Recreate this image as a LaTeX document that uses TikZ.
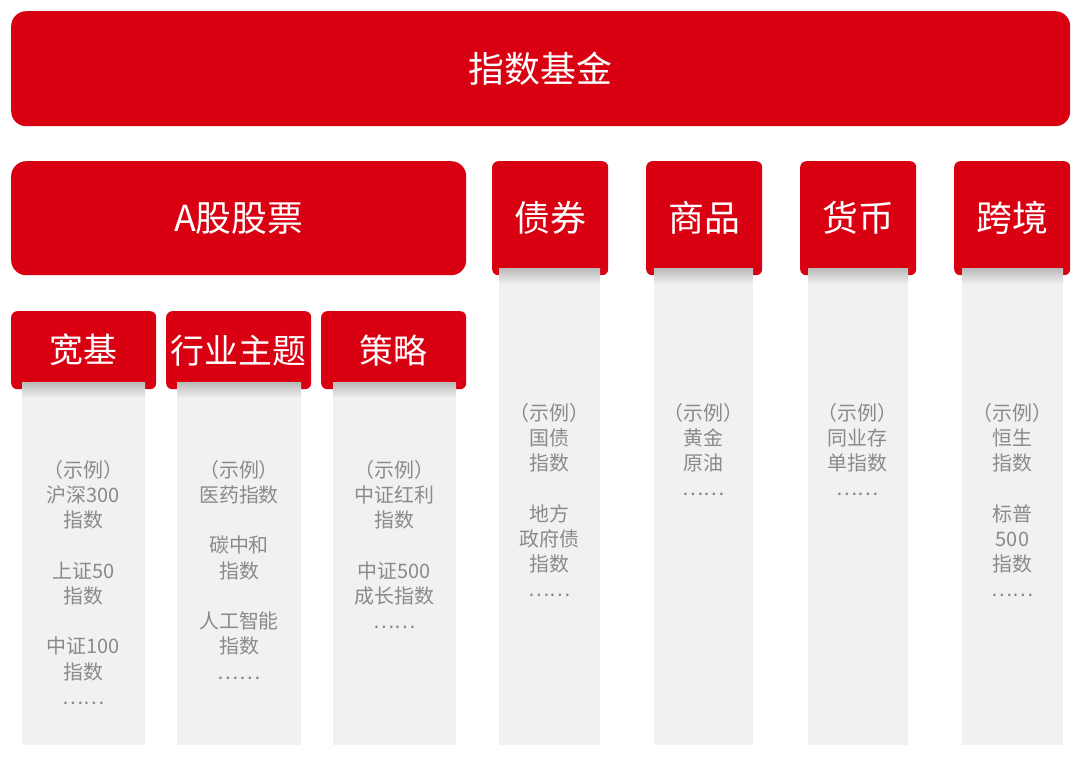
\documentclass[tikz,border=0pt]{standalone}
\usepackage{fontspec}
\setmainfont{Noto Sans CJK SC}
\definecolor{idxred}{RGB}{217,0,18}
\definecolor{colgray}{RGB}{241,241,241}
\definecolor{shadowgray}{RGB}{185,185,185}
\definecolor{txtgray}{RGB}{138,138,138}
\tikzset{
  bigbar/.style={fill=idxred, rounded corners=15bp, text=white, inner sep=0pt, anchor=north west,
    font=\fontsize{36}{40}\selectfont},
  redtab/.style={fill=idxred, rounded corners=6bp, text=white, inner sep=0pt, anchor=north west,
    font=\fontsize{36}{40}\selectfont},
  subtab/.style={redtab, font=\fontsize{34}{38}\selectfont},
  graycol/.style={fill=colgray, inner sep=0pt, anchor=north west},
  coltext/.style={text=txtgray, align=center, inner sep=0pt, anchor=north,
    font=\fontsize{20}{25.3}\selectfont},
}
\newcommand{\colshade}[3]{\shade[top color=shadowgray, bottom color=colgray] (#1,#3) rectangle (#2,#3+16);}
\begin{document}
\begin{tikzpicture}[x=1bp,y=-1bp]
\useasboundingbox (0,0) rectangle (1080,757);
\fill[white] (0,0) rectangle (1080,757);
% top bar
\node[bigbar, minimum width=1059bp, minimum height=115bp] (top) at (11,11) {指数基金};
% A-share bar
\node[redtab, rounded corners=15bp, minimum width=455bp, minimum height=114bp] (ashare) at (11,161) {A股股票};
% right tabs
\node[redtab, minimum width=116bp, minimum height=114bp] (bond) at (492,161) {债券};
\node[redtab, minimum width=116bp, minimum height=114bp] (comm) at (646,161) {商品};
\node[redtab, minimum width=116bp, minimum height=114bp] (money) at (800,161) {货币};
\node[redtab, minimum width=116bp, minimum height=114bp] (cross) at (954,161) {跨境};
% sub tabs
\node[subtab, minimum width=145bp, minimum height=78bp] (broad) at (11,311) {宽基};
\node[subtab, minimum width=145bp, minimum height=78bp] (sector) at (166,311) {行业主题};
\node[subtab, minimum width=145bp, minimum height=78bp] (strat) at (321,311) {策略};
% gray columns
\node[graycol, minimum width=123bp, minimum height=363bp] (cbroad) at (22,382) {};
\node[graycol, minimum width=124bp, minimum height=363bp] (csector) at (177,382) {};
\node[graycol, minimum width=123bp, minimum height=363bp] (cstrat) at (333,382) {};
\node[graycol, minimum width=101bp, minimum height=477bp] (cbond) at (499,268) {};
\node[graycol, minimum width=99bp, minimum height=477bp] (ccomm) at (654,268) {};
\node[graycol, minimum width=100bp, minimum height=477bp] (cmoney) at (808,268) {};
\node[graycol, minimum width=101bp, minimum height=477bp] (ccross) at (962,268) {};
\colshade{22}{145}{382}
\colshade{177}{301}{382}
\colshade{333}{456}{382}
\colshade{499}{600}{268}
\colshade{654}{753}{268}
\colshade{808}{908}{268}
\colshade{962}{1063}{268}
% column texts
\node[coltext] (tbroad) at (83.5,460) {（示例）\\沪深300\\指数\\[25.3bp]上证50\\指数\\[25.3bp]中证100\\指数\\……};
\node[coltext] (tsector) at (239,460) {（示例）\\医药指数\\[25.3bp]碳中和\\指数\\[25.3bp]人工智能\\指数\\……};
\node[coltext] (tstrat) at (394.5,460) {（示例）\\中证红利\\指数\\[25.3bp]中证500\\成长指数\\……};
\node[coltext] (tbond) at (549.5,403) {（示例）\\国债\\指数\\[25.3bp]地方\\政府债\\指数\\……};
\node[coltext] (tcomm) at (703.5,403) {（示例）\\黄金\\原油\\……};
\node[coltext] (tmoney) at (857.5,403) {（示例）\\同业存\\单指数\\……};
\node[coltext] (tcross) at (1012.5,403) {（示例）\\恒生\\指数\\[25.3bp]标普\\500\\指数\\……};
\end{tikzpicture}
\end{document}
